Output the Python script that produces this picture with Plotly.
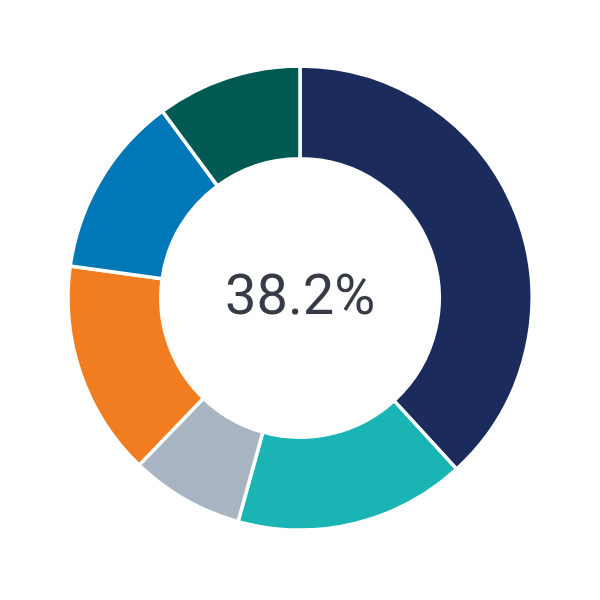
import plotly.graph_objects as go

# Slice data, clockwise from 12 o'clock
labels = ['A', 'B', 'C', 'D', 'E', 'F']
values = [38.2, 16.1, 7.9, 15.0, 12.7, 10.1]
colors = ['#1b2b5b', '#1ab4b5', '#a9b4c3', '#f27d20', '#0077b6', '#005953']
center_label = '38.2%'

fig = go.Figure(go.Pie(
    labels=labels,
    values=values,
    hole=0.6,
    sort=False,
    direction='clockwise',
    rotation=0,
    marker=dict(colors=colors, line=dict(color='white', width=3.5)),
    textinfo='none',
    hoverinfo='label+percent',
))

fig.add_annotation(
    text=center_label, x=0.5, y=0.5, xref='paper', yref='paper', yshift=3,
    showarrow=False, font=dict(family='Roboto', size=56, color='#363b46'),
)

# page body adds an 8px offset, so margins are shifted to compensate
fig.update_layout(
    width=600, height=600,
    margin=dict(l=60, r=76, t=58, b=78),
    showlegend=False,
    paper_bgcolor='white',
    plot_bgcolor='white',
)

fig.write_html('out.html')
